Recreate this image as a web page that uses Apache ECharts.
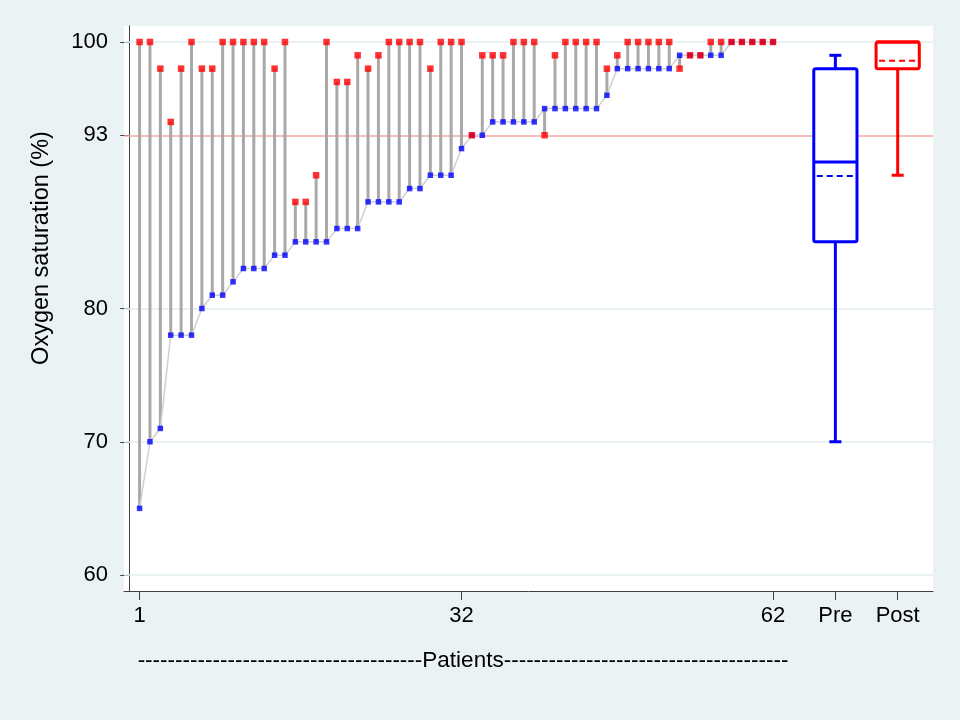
<!DOCTYPE html>
<html>
<head>
<meta charset="utf-8">
<script src="https://cdn.jsdelivr.net/npm/echarts@6/dist/echarts.min.js"></script>
<style>
html,body{margin:0;padding:0;background:#eaf2f3;}
#chart{width:960px;height:720px;}
</style>
</head>
<body>
<div id="chart"></div>
<script>
// ---- data ----
const patients = [1,2,3,4,5,6,7,8,9,10,11,12,13,14,15,16,17,18,19,20,21,22,23,24,25,26,27,28,29,30,31,32,33,34,35,36,37,38,39,40,41,42,43,44,45,46,47,48,49,50,51,52,53,54,55,56,57,58,59,60,61,62];
const preSat = [65,70,71,78,78,78,80,81,81,82,83,83,83,84,84,85,85,85,85,86,86,86,88,88,88,88,89,89,90,90,90,92,93,93,94,94,94,94,94,95,95,95,95,95,95,96,98,98,98,98,98,98,99,99,99,99,99,100,100,100,100,100];
const postSat = [100,100,98,94,98,100,98,98,100,100,100,100,100,98,100,88,88,90,100,97,97,99,98,99,100,100,100,100,98,100,100,100,93,99,99,99,100,100,100,93,99,100,100,100,100,98,99,100,100,100,100,100,98,99,99,100,100,100,100,100,100,100];

const boxGroups = ['Pre', 'Post'];
const boxPos = [68, 74];
const boxLow = [70, 90];
const boxQ1 = [85, 98];
const boxMedian = [91, 100];
const boxQ3 = [98, 100];
const boxHigh = [99, 100];
const boxColors = ['#0000ff', '#ff0000'];

const xTickValues = [1, 32, 62, 68, 74];
const xTickLabels = ['1', '32', '62', 'Pre', 'Post'];
const yTickValues = [60, 70, 80, 93, 100];
const gridValues = [60, 70, 80, 100];
const refLine = 93;

// ---- derived ----
const mean = a => a.reduce((s, v) => s + v, 0) / a.length;
const boxMean = [mean(preSat), mean(postSat)];

const spikeData = patients.map((p, i) => [p, preSat[i], postSat[i]]);
const preData = patients.map((p, i) => [p, preSat[i]]);
const postData = patients.map((p, i) => [p, postSat[i]]);
const boxData = boxPos.map((x, i) => [x, boxLow[i], boxQ1[i], boxMedian[i], boxQ3[i], boxHigh[i], boxMean[i], i]);

const chart = echarts.init(document.getElementById('chart'));
const FONT = '"Liberation Sans", Arial, sans-serif';

function dashes(n){ return '-'.repeat(n); }

const option = {
  backgroundColor: '#eaf2f3',
  animation: false,
  grid: { left: 124, top: 26, right: 27, bottom: 129, show: true, backgroundColor: '#ffffff', borderWidth: 0 },
  xAxis: {
    type: 'value', min: -0.5, max: 77.4,
    axisLine: { show: true, lineStyle: { color: '#404040', width: 1 } },
    axisTick: { show: true, customValues: xTickValues, length: 9, lineStyle: { color: '#404040' } },
    axisLabel: {
      customValues: xTickValues, margin: 14,
      fontFamily: FONT, fontSize: 22, color: '#000',
      formatter: v => xTickLabels[xTickValues.indexOf(v)] || ''
    },
    splitLine: { show: false }
  },
  yAxis: {
    type: 'value', min: 58.8, max: 101.2,
    axisLine: { show: true, lineStyle: { color: '#404040', width: 1 } },
    axisTick: { show: true, customValues: yTickValues, length: 9, lineStyle: { color: '#404040' } },
    axisLabel: { customValues: yTickValues, margin: 16, fontFamily: FONT, fontSize: 22, color: '#000' },
    splitLine: { show: false }
  },
  graphic: [
    { type: 'text', rotation: Math.PI / 2, x: 42, y: 248,
      style: { text: 'Oxygen saturation (%)', font: '23.5px ' + FONT, fill: '#000', align: 'center', verticalAlign: 'middle' } },
    { type: 'text', x: 463, y: 661,
      style: { text: dashes(38) + 'Patients' + dashes(38), font: '22.5px ' + FONT, fill: '#000', align: 'center', verticalAlign: 'middle' } }
  ],
  series: [
    {
      type: 'line', data: [], silent: true, z: 1,
      markLine: {
        silent: true, symbol: 'none', label: { show: false }, z: 1,
        data: gridValues.map(v => ({ yAxis: v, lineStyle: { color: '#e3ecee', width: 1.5, type: 'solid' } }))
          .concat([{ yAxis: refLine, lineStyle: { color: '#f5a6a6', width: 1.5, type: 'solid' } }])
      }
    },
    {
      type: 'custom', z: 6, silent: true,
      data: spikeData,
      renderItem: (params, api) => {
        const a = api.coord([api.value(0), api.value(1)]);
        const b = api.coord([api.value(0), api.value(2)]);
        return { type: 'line', shape: { x1: a[0], y1: a[1], x2: b[0], y2: b[1] }, style: { stroke: '#a9a9a9', lineWidth: 3 } };
      }
    },
    {
      type: 'line', z: 7, data: preData, showSymbol: false, silent: true,
      lineStyle: { color: '#d0d0d0', width: 1.5 }
    },
    {
      type: 'scatter', z: 10, data: preData, symbol: 'rect', symbolSize: 5.5,
      itemStyle: { color: '#0000ff' }
    },
    {
      type: 'scatter', z: 11, data: postData, symbol: 'rect', symbolSize: 6.5,
      itemStyle: { color: '#ff0000' }
    },
    {
      type: 'custom', z: 12, silent: true,
      data: boxData,
      renderItem: (params, api) => {
        const x = api.value(0);
        const col = boxColors[api.value(7)];
        const half = api.size([2.08, 0])[0];
        const capHalf = 6;
        const cx = api.coord([x, 0])[0];
        const yLow = api.coord([x, api.value(1)])[1];
        const yQ1 = api.coord([x, api.value(2)])[1];
        const yMed = api.coord([x, api.value(3)])[1];
        const yQ3 = api.coord([x, api.value(4)])[1];
        const yHigh = api.coord([x, api.value(5)])[1];
        const yMean = api.coord([x, api.value(6)])[1];
        const st = { stroke: col, lineWidth: 3, fill: null };
        const ch = [];
        ch.push({ type: 'line', shape: { x1: cx, y1: yQ1, x2: cx, y2: yLow }, style: st });
        ch.push({ type: 'line', shape: { x1: cx - capHalf, y1: yLow, x2: cx + capHalf, y2: yLow }, style: st });
        if (yHigh < yQ3 - 0.5) {
          ch.push({ type: 'line', shape: { x1: cx, y1: yQ3, x2: cx, y2: yHigh }, style: st });
          ch.push({ type: 'line', shape: { x1: cx - capHalf, y1: yHigh, x2: cx + capHalf, y2: yHigh }, style: st });
        }
        ch.push({ type: 'rect', shape: { x: cx - half, y: yQ3, width: 2 * half, height: yQ1 - yQ3, r: 2 }, style: { stroke: col, lineWidth: 3, fill: '#ffffff' } });
        ch.push({ type: 'line', shape: { x1: cx - half, y1: yMed, x2: cx + half, y2: yMed }, style: st });
        ch.push({ type: 'line', shape: { x1: cx - half + 3, y1: yMean, x2: cx + half - 3, y2: yMean }, style: { stroke: col, lineWidth: 2, lineDash: [6, 4] } });
        return { type: 'group', children: ch };
      }
    }
  ]
};
chart.setOption(option);
</script>
</body>
</html>
